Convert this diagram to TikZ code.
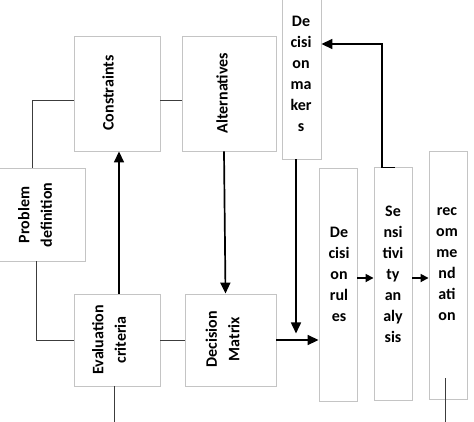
\documentclass[tikz,border=0pt]{standalone}
\usepackage{fontspec}
\setmainfont{Carlito}
\usetikzlibrary{arrows.meta}
\definecolor{boxgray}{HTML}{C4C4C4}
\definecolor{linegray}{HTML}{3C3C3C}
\tikzset{
  box/.style={draw=boxgray, line width=0.9pt, fill=white, inner sep=0pt},
  lbl/.style={font=\bfseries\fontsize{16}{22.5}\selectfont, align=center, inner sep=0pt},
  nlbl/.style={lbl, font=\bfseries\fontsize{16}{21}\selectfont},
  vlbl/.style={lbl, rotate=90},
  thinline/.style={draw=linegray, line width=1pt},
  bigarrow/.style={draw=black, line width=1.7pt, -{Triangle[length=11pt,width=10pt]}},
  smallarrow/.style={draw=black, line width=1.7pt, -{Triangle[length=8pt,width=8pt]}},
}
\begin{document}
\begin{tikzpicture}[x=1pt,y=-1pt]
\useasboundingbox (0,0) rectangle (474,421);
% boxes
\node[box, minimum width=86pt, minimum height=115pt] (con) at (117,93.5) {};
\node[box, minimum width=94pt, minimum height=115pt] (alt) at (229,93.5) {};
\node[box, minimum width=87pt, minimum height=93pt] (pd) at (41.5,214.5) {};
\node[box, minimum width=86pt, minimum height=92pt] (eva) at (117,340) {};
\node[box, minimum width=91pt, minimum height=92pt] (dm) at (230.5,340) {};
\node[box, minimum width=39pt, minimum height=169pt] (dmk) at (301.5,74.5) {};
\node[box, minimum width=38pt, minimum height=233pt] (dr) at (338,284.5) {};
\node[box, minimum width=38pt, minimum height=233pt] (sens) at (393,283.5) {};
\node[box, minimum width=38pt, minimum height=248pt] (rec) at (448,275) {};
% labels
\node[vlbl] (tcon) at (108,93) {Constraints};
\node[vlbl] (talt) at (222,93) {Alternatives};
\node[vlbl] (tpd) at (35,215) {Problem\\definition};
\node[vlbl] (teva) at (109,340) {Evaluation\\criteria};
\node[vlbl] (tdm) at (222.5,339) {Decision\\Matrix};
\node[nlbl] (tdmk) at (301,74) {De\\cisi\\on\\ma\\ker\\s};
\node[nlbl] (tdr) at (339,274) {De\\cisi\\on\\rul\\es};
\node[nlbl] (tsens) at (393,274) {Se\\nsi\\tivi\\ty\\an\\aly\\sis};
\node[nlbl] (trec) at (447,264) {rec\\om\\me\\nd\\ati\\on};
% thin connectors
\draw[thinline] ([xshift=-9.5pt]pd.north) |- ([yshift=-6.5pt]con.west);
\draw[thinline] ([yshift=-6.5pt]con.east) -- ([yshift=-6.5pt]alt.west);
\draw[thinline] ([xshift=-5.5pt]pd.south) |- (eva.west);
\draw[thinline] (eva.east) -- (dm.west);
\draw[thinline] ([xshift=-3pt]eva.south) -- ++(0,40);
\draw[thinline] ([xshift=-3pt,yshift=21pt]rec.south) -- ++(0,50);
% thick arrows
\draw[bigarrow] ([xshift=2pt]eva.north) -- ([xshift=2pt]con.south);
\draw[bigarrow] ([xshift=-5pt]alt.south) -- ([xshift=-5pt]dm.north);
\draw[bigarrow] ([xshift=-5.5pt]dmk.south) -- ++(0,174);
\draw[bigarrow] (dm.east) -- (dm.east -| dr.west);
\draw[bigarrow] ([xshift=1.5pt,yshift=-1pt]sens.north) -- ([xshift=-11pt,yshift=-1pt]sens.north) |- ([yshift=30.5pt]dmk.east);
\draw[smallarrow] ([yshift=6.5pt]dr.east) -- ([yshift=6.5pt]dr.east -| sens.west);
\draw[smallarrow] ([yshift=5.5pt]sens.east) -- ([yshift=5.5pt]sens.east -| rec.west);
\end{tikzpicture}
\end{document}
